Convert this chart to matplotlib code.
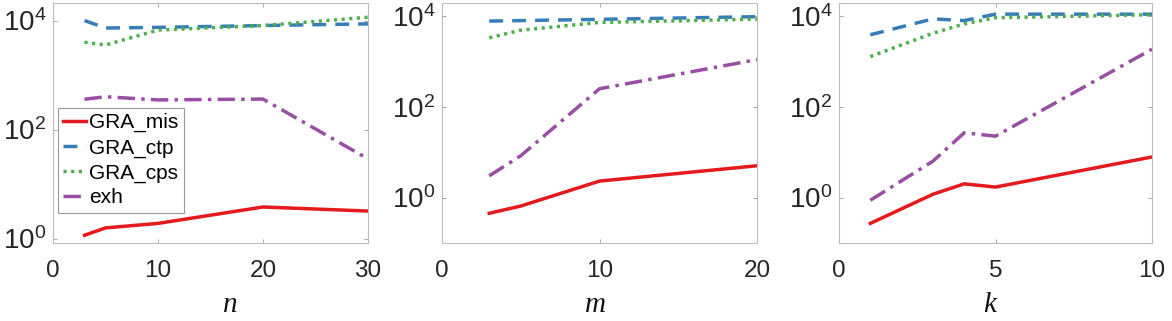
import numpy as np
import matplotlib
matplotlib.use('Agg')
import matplotlib.pyplot as plt

# data (log-scale y)
n_vals = [3, 5, 10, 20, 30]
n_mis = [1.15, 1.57, 1.9, 3.8, 3.2]
n_ctp = [10000, 7300, 7500, 8100, 8700]
n_cps = [4000, 3560, 6700, 8100, 11500]
n_exh = [360, 400, 350, 363, 29]

m_vals = [3, 5, 10, 20]
m_mis = [0.45, 0.65, 2.3, 5.0]
m_ctp = [7600, 7800, 8300, 9500]
m_cps = [3250, 4800, 7100, 8400]
m_exh = [3.0, 8.3, 247, 1080]

k_vals = [1, 3, 4, 5, 10]
k_mis = [0.27, 1.18, 2.0, 1.7, 7.8]
k_ctp = [3800, 8500, 7800, 10800, 10800]
k_cps = [1260, 4100, 6600, 9000, 10500]
k_exh = [0.87, 6.3, 26.5, 22.4, 1830]

labels = ['GRA_mis', 'GRA_ctp', 'GRA_cps', 'exh']
colors = ['#e41a1c', '#377eb8', '#4daf4a', '#984ea3']

plt.rcParams['font.family'] = ['Liberation Sans', 'DejaVu Sans']
plt.rcParams['mathtext.fontset'] = 'custom'
plt.rcParams['mathtext.rm'] = 'Liberation Sans'

fig = plt.figure(figsize=(11.72, 3.21), dpi=100)
W, H = 1172., 321.
boxes = [(53, 315), (442, 315), (839, 313)]
panels = [
    (n_vals, [n_mis, n_ctp, n_cps, n_exh], [0, 10, 20, 30], (0, 30), (0.83, 2.1e4), 'n', 230),
    (m_vals, [m_mis, m_ctp, m_cps, m_exh], [0, 10, 20], (0, 20), (0.1, 1.9e4), 'm', 595),
    (k_vals, [k_mis, k_ctp, k_cps, k_exh], [0, 5, 10], (0, 10), (0.1, 1.9e4), 'k', 990),
]
styles = ['-', (0, (4, 2.6)), (0, (0.9, 1.3)), (0, (5, 1.8, 1, 1.8))]

for i, (xv, ys, xt, xl, yl, lab, labx) in enumerate(panels):
    left, w = boxes[i]
    ax = fig.add_axes([left / W, 1 - 243 / H, w / W, 240 / H])
    for y, c, ls, name in zip(ys, colors, styles, labels):
        ax.plot(xv, y, color=c, linestyle=ls, lw=2.5, label=name)
    ax.set_yscale('log')
    ax.set_xlim(xl)
    ax.set_ylim(yl)
    ax.set_xticks(xt)
    ax.set_yticks([1, 1e2, 1e4])
    ax.yaxis.set_minor_locator(matplotlib.ticker.NullLocator())
    ax.tick_params(direction='in', length=3, width=0.6, color='#999999',
                   labelcolor='#262626', top=True, right=True)
    ax.tick_params(axis='x', labelsize=17.5, pad=12)
    ax.tick_params(axis='y', labelsize=20, pad=5)
    for s in ax.spines.values():
        s.set_color('#bbbbbb')
        s.set_linewidth(0.8)
    fig.text(labx / W, 3 / H, lab, fontsize=21, family='Liberation Serif',
             style='italic', ha='center', va='bottom', color='#111111')
    if i == 0:
        leg = ax.legend(loc='upper left', bbox_to_anchor=(0.016, 0.5625),
                        borderaxespad=0, fontsize=15, handlelength=1.1,
                        handletextpad=0.15, labelspacing=0.28, borderpad=0.25,
                        fancybox=False, framealpha=1, edgecolor='#999999')
        leg.get_frame().set_linewidth(0.8)

fig.savefig('out.png', dpi=100)
